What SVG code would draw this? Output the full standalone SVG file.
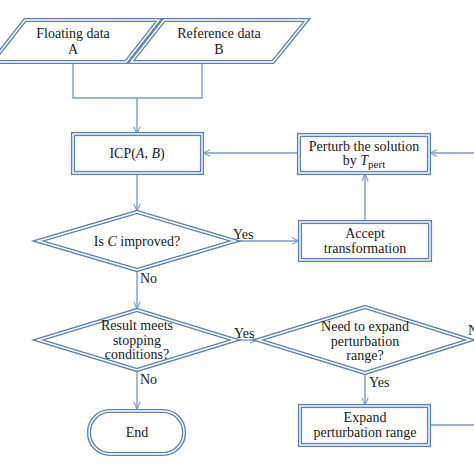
<svg xmlns="http://www.w3.org/2000/svg" width="474" height="474" viewBox="0 0 474 474">
<defs>
<style>
.o{fill:#fff;stroke:#5f83b0;stroke-width:4.2}
.i{fill:none;stroke:#fff;stroke-width:1.4}
.t{font-family:"Liberation Serif","Times New Roman",serif;font-size:14px;fill:#1a1a1a;text-anchor:middle}
.l{font-family:"Liberation Serif","Times New Roman",serif;font-size:14px;fill:#1a1a1a}
.c{fill:none;stroke:#7d9dc3;stroke-width:1.4}
</style>
<marker id="ah" viewBox="0 0 10 10" refX="10" refY="5" markerWidth="8" markerHeight="8" markerUnits="userSpaceOnUse" orient="auto">
<path d="M1,1 L10,5 L1,9" fill="none" stroke="#7d9dc3" stroke-width="1.4"/>
</marker>
</defs>
<rect width="474" height="474" fill="#fff"/>

<g id="connectors">
<path class="c" d="M73,62 V98 H202 V62"/>
<path class="c" d="M137,98 V134" marker-end="url(#ah)"/>
<path class="c" d="M299,153 H203" marker-end="url(#ah)"/>
<path class="c" d="M474,153 H430" marker-end="url(#ah)"/>
<path class="c" d="M137,173 V211" marker-end="url(#ah)"/>
<path class="c" d="M235,241 H299" marker-end="url(#ah)"/>
<path class="c" d="M365,222 V174" marker-end="url(#ah)"/>
<path class="c" d="M137,270 V309" marker-end="url(#ah)"/>
<path class="c" d="M235,340 H257" marker-end="url(#ah)"/>
<path class="c" d="M137,370 V409" marker-end="url(#ah)"/>
<path class="c" d="M365,373 V405" marker-end="url(#ah)"/>
<path class="c" d="M429,425 H474"/>
<text class="l" x="233" y="239">Yes</text>
<text class="l" x="140" y="283">No</text>
<text class="l" x="234" y="338">Yes</text>
<text class="l" x="140" y="384">No</text>
<text class="l" x="369" y="387">Yes</text>
<text class="l" x="468" y="335">No</text>
</g>

<g id="floating">
<polygon class="o" points="25,20 159,20 126,62 -8,62"/>
<polygon class="i" points="25,20 159,20 126,62 -8,62"/>
<text class="t" x="73" y="38">Floating data</text>
<text class="t" x="73" y="54">A</text>
</g>
<g id="reference">
<polygon class="o" points="164,20 307,20 273,62 131,62"/>
<polygon class="i" points="164,20 307,20 273,62 131,62"/>
<text class="t" x="219" y="38">Reference data</text>
<text class="t" x="219" y="54">B</text>
</g>
<g id="icp">
<rect class="o" x="73" y="134" width="129" height="39"/>
<rect class="i" x="73" y="134" width="129" height="39"/>
<text class="t" x="137" y="158">ICP(<tspan font-style="italic">A</tspan>, <tspan font-style="italic">B</tspan>)</text>
</g>
<g id="perturb">
<rect class="o" x="299" y="135" width="130" height="38"/>
<rect class="i" x="299" y="135" width="130" height="38"/>
<text class="t" x="364" y="151">Perturb the solution</text>
<text class="t" x="364" y="165">by <tspan font-style="italic">T</tspan><tspan dy="3" font-size="11px">pert</tspan></text>
</g>
<g id="improved">
<polygon class="o" points="137,212 235,241 137,270 38,241"/>
<polygon class="i" points="137,212 235,241 137,270 38,241"/>
<text class="t" x="137" y="246">Is <tspan font-style="italic">C</tspan> improved?</text>
</g>
<g id="accept">
<rect class="o" x="300" y="222" width="130" height="38"/>
<rect class="i" x="300" y="222" width="130" height="38"/>
<text class="t" x="365" y="238">Accept</text>
<text class="t" x="365" y="253">transformation</text>
</g>
<g id="stopping">
<polygon class="o" points="137,310 235,340 137,370 38,340"/>
<polygon class="i" points="137,310 235,340 137,370 38,340"/>
<text class="t" x="137" y="330">Result meets</text>
<text class="t" x="137" y="345">stopping</text>
<text class="t" x="137" y="359">conditions?</text>
</g>
<g id="expandq">
<polygon class="o" points="365,307 470,340 365,373 258,340"/>
<polygon class="i" points="365,307 470,340 365,373 258,340"/>
<text class="t" x="365" y="331">Need to expand</text>
<text class="t" x="365" y="346">perturbation</text>
<text class="t" x="365" y="360">range?</text>
</g>
<g id="expand">
<rect class="o" x="300" y="406" width="129" height="39"/>
<rect class="i" x="300" y="406" width="129" height="39"/>
<text class="t" x="365" y="422">Expand</text>
<text class="t" x="365" y="437">perturbation range</text>
</g>
<g id="end">
<rect class="o" x="89" y="411" width="95" height="43" rx="21" ry="21"/>
<rect class="i" x="89" y="411" width="95" height="43" rx="21" ry="21"/>
<text class="t" x="137" y="437">End</text>
</g>
</svg>
